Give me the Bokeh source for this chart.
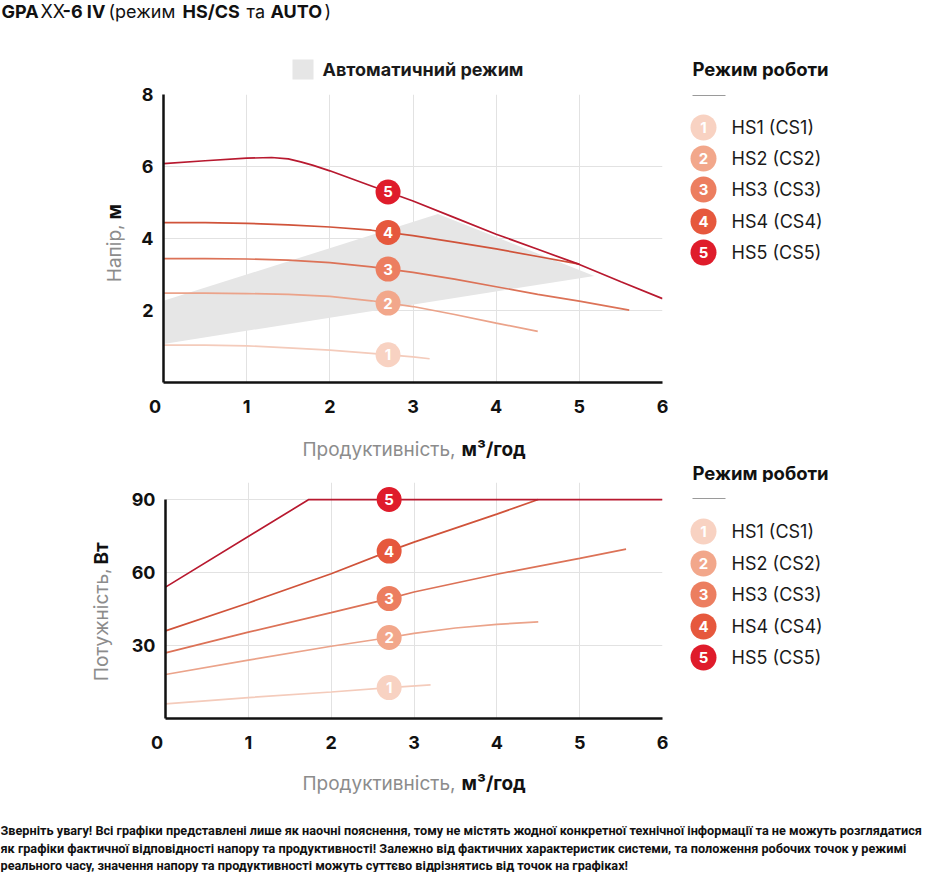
import numpy as np
from bokeh.plotting import figure
from bokeh.models import Range1d, FixedTicker
from bokeh.layouts import column, row
from bokeh.embed import file_html
from bokeh.resources import INLINE
from bokeh.core.properties import value

FONT = "Inter"

# ---------------- data ----------------
mode_labels = ["HS1 (CS1)", "HS2 (CS2)", "HS3 (CS3)", "HS4 (CS4)", "HS5 (CS5)"]
mode_nums = ["1", "2", "3", "4", "5"]
circle_colors = ["#f8d2c2", "#f2a78b", "#ec7e60", "#e6583d", "#df1c2b"]
line_colors = ["#f4cbbb", "#eba38a", "#dc7257", "#d0533a", "#b8192f"]

x_ticks = [0, 1, 2, 3, 4, 5, 6]
head_ticks = [2, 4, 6, 8]
power_ticks = [30, 60, 90]
marker_q = 2.7

# head curves (m) vs flow (m3/h)
head_q1 = [0, 0.5, 1, 1.5, 2, 2.5, 3, 3.2]
head_h1 = [1.04, 1.04, 1.02, 0.96, 0.90, 0.81, 0.71, 0.66]
head_q2 = [0, 0.5, 1, 1.5, 2, 2.5, 3, 3.5, 4, 4.5]
head_h2 = [2.48, 2.48, 2.47, 2.45, 2.39, 2.27, 2.11, 1.89, 1.65, 1.42]
head_q3 = [0, 0.5, 1, 1.5, 2, 2.5, 3, 3.5, 4, 4.5, 5, 5.6]
head_h3 = [3.44, 3.44, 3.43, 3.40, 3.33, 3.21, 3.06, 2.87, 2.66, 2.45, 2.26, 2.01]
head_q4 = [0, 0.5, 1, 1.5, 2, 2.5, 3, 3.5, 4, 4.5, 5]
head_h4 = [4.44, 4.44, 4.42, 4.38, 4.32, 4.23, 4.08, 3.90, 3.71, 3.50, 3.29]
head_q5 = [0, 0.5, 1, 1.3, 1.5, 1.65, 1.8, 2, 2.5, 3, 3.5, 4, 4.5, 5, 5.5, 6]
head_h5 = [6.08, 6.16, 6.23, 6.25, 6.21, 6.13, 6.03, 5.88, 5.46, 5.04, 4.58, 4.12, 3.70, 3.28, 2.80, 2.33]

# automatic mode area
auto_q = [0, 0, 3.3, 5.18]
auto_h = [1.07, 2.27, 4.68, 2.96]

# power curves (W) vs flow (m3/h)
pow_q1 = [0, 1, 2, 2.7, 3.2]
pow_p1 = [6.0, 8.6, 10.9, 12.7, 13.8]
pow_q2 = [0, 1, 2, 2.7, 3, 3.5, 4, 4.5]
pow_p2 = [18.1, 24.0, 29.7, 33.3, 35.0, 37.2, 38.7, 39.7]
pow_q3 = [0, 1, 2, 2.7, 3, 4, 5, 5.56]
pow_p3 = [27.0, 35.5, 43.5, 49.3, 52.0, 59.3, 65.8, 69.6]
pow_q4 = [0, 1, 2, 2.7, 3, 4, 4.5]
pow_p4 = [36.0, 47.5, 59.5, 68.8, 72.5, 84.0, 90.0]
pow_q5 = [0, 1.73, 6]
pow_p5 = [54.0, 90.0, 90.0]

head_q = [head_q1, head_q2, head_q3, head_q4, head_q5]
head_h = [head_h1, head_h2, head_h3, head_h4, head_h5]
pow_q = [pow_q1, pow_q2, pow_q3, pow_q4, pow_q5]
pow_p = [pow_p1, pow_p2, pow_p3, pow_p4, pow_p5]

title_parts = ["GPA", "XX", "-6 IV", "(режим", "HS/CS", "та", "AUTO", ")"]
title_styles = ["bold", "normal", "bold", "normal", "bold", "normal", "bold", "normal"]
title_x = [1, 40, 62, 108, 182, 246, 270, 324]

auto_label = "Автоматичний режим"
legend_title = "Режим роботи"
x_title_light = "Продуктивність,"
x_title_bold = "м³/год"

footer_lines = [
    "Зверніть увагу! Всі графіки представлені лише як наочні пояснення, тому не містять жодної конкретної технічної інформації та не можуть розглядатися",
    "як графіки фактичної відповідності напору та продуктивності! Залежно від фактичних характеристик системи, та положення робочих точок у режимі",
    "реального часу, значення напору та продуктивності можуть суттєво відрізнятись від точок на графіках!",
]

W = 936
YT_W = 128
CHART_W = 549
LEG_W = W - YT_W - CHART_W


def canvas(x0, y0, w, h, bt=0, bb=0):
    """A blank figure whose coordinates are page pixels (y measured downwards as negative).
    bt/bb: top/bottom borders, so that its frame lines up with a chart in the same row."""
    f = figure(width=w, height=h, x_range=Range1d(x0, x0 + w),
               y_range=Range1d(-(y0 + h - bb), -(y0 + bt)),
               output_backend="svg", toolbar_location=None, min_border=0,
               min_border_top=bt, min_border_bottom=bb,
               x_axis_location=None, y_axis_location=None)
    f.grid.visible = False
    f.outline_line_color = None
    return f


def put(f, x, y, txt, size, style="normal", color="#111111", align="left", angle=0.0, font=FONT):
    f.text([x], [-y], text=[txt], text_align=align, text_baseline="middle", angle=angle,
           text_font=value(font), text_font_style=style, text_font_size=size, text_color=color)


def style_chart(p, yticks):
    p.outline_line_color = None
    p.xaxis.ticker = FixedTicker(ticks=x_ticks)
    p.yaxis.ticker = FixedTicker(ticks=yticks)
    p.xgrid.ticker = FixedTicker(ticks=x_ticks[1:])
    p.ygrid.ticker = FixedTicker(ticks=yticks)
    p.grid.grid_line_color = "#e2e2e2"
    p.grid.grid_line_width = 1
    p.yaxis.bounds = (0, yticks[-1])
    for ax in (p.xaxis[0], p.yaxis[0]):
        ax.axis_line_width = 2.5
        ax.axis_line_color = "#111111"
        ax.major_tick_in = 0
        ax.major_tick_out = 0
        ax.minor_tick_line_color = None
        ax.major_tick_line_color = None
        ax.major_label_text_font = FONT
        ax.major_label_text_font_style = "bold"
        ax.major_label_text_font_size = "18px"
        ax.major_label_text_color = "#111111"
    p.xaxis.major_label_overrides = {0: "0\u00a0\u00a0\u00a0\u00a0"}
    p.xaxis.major_label_standoff = 13
    p.yaxis.major_label_standoff = 10


def add_curves(p, qs, vs):
    for q, v, lc in zip(qs, vs, line_colors):
        p.line(q, v, line_color=lc, line_width=1.7)
    for q, v, cc, n in zip(qs, vs, circle_colors, mode_nums):
        my = float(np.interp(marker_q, q, v))
        p.scatter([marker_q], [my], marker="circle", size=25, fill_color=cc, line_color=None)
        p.text([marker_q], [my], text=[n], text_align="center", text_baseline="middle",
               text_color="white", text_font=value(FONT), text_font_style="bold",
               text_font_size="15px")


def side_legend(x0, y0, h, bt, bb, line_y, item_y):
    f = canvas(x0, y0, LEG_W, h, bt, bb)
    f.line([692, 725], [-line_y, -line_y], line_color="#9a9a9a", line_width=1)
    f.scatter([703] * 5, [-y for y in item_y], marker="circle", size=26,
              fill_color=circle_colors, line_color=None)
    f.text([703] * 5, [-y for y in item_y], text=mode_nums, text_align="center",
           text_baseline="middle", text_color="white", text_font=value(FONT),
           text_font_style="bold", text_font_size="15px")
    f.text([731] * 5, [-y for y in item_y], text=mode_labels, text_align="left",
           text_baseline="middle", text_color="#1a1a1a", text_font=value(FONT),
           text_font_size="18px")
    return f


# ---------------- row A: title, auto legend, legend title ----------------
ra = canvas(0, 0, W, 80)
for txt, st, tx in zip(title_parts, title_styles, title_x):
    put(ra, tx, 11, txt, "18px", style=st)
ra.rect([302.5], [-69], width=21, height=20, fill_color="#e6e6e6", line_color=None)
put(ra, 322, 69, auto_label, "18px", style="bold", color="#1a1a1a")
put(ra, 692, 68, legend_title, "18.5px", style="bold")

# ---------------- row B: head chart (frame at page y 94..382) ----------------
yt1 = canvas(0, 80, YT_W, 340, 14, 38)
put(yt1, 114, 224, "Напір,", "19px", color="#8c8c8c", align="right", angle=np.pi / 2)
put(yt1, 114, 219, "м", "19px", style="bold", align="left", angle=np.pi / 2)

p1 = figure(width=CHART_W, height=340, x_range=Range1d(0, 6), y_range=Range1d(0, 8),
            output_backend="svg", toolbar_location=None,
            min_border_left=35, min_border_right=15, min_border_top=14, min_border_bottom=38)
style_chart(p1, head_ticks)
p1.patch(auto_q, auto_h, fill_color="#e6e6e6", line_color=None)
add_curves(p1, head_q, head_h)

l1 = side_legend(YT_W + CHART_W, 80, 340, 14, 38, 95, [127, 158, 189, 221, 252])

# ---------------- row C: x title 1 + legend 2 title ----------------
rc = canvas(0, 420, W, 62)
put(rc, 455, 449, x_title_light, "19px", color="#8c8c8c", align="right")
put(rc, 461, 449, x_title_bold, "19px", style="bold", align="left")
put(rc, 692, 472, legend_title, "18.5px", style="bold")

# ---------------- row E: power chart (frame at page y 482..718) ----------------
yt2 = canvas(0, 482, YT_W, 275, 0, 39)
put(yt2, 101, 568, "Потужність,", "19px", color="#8c8c8c", align="right", angle=np.pi / 2)
put(yt2, 101, 564, "Вт", "19px", style="bold", align="left", angle=np.pi / 2)

p2 = figure(width=CHART_W, height=275, x_range=Range1d(0, 6), y_range=Range1d(0, 97),
            output_backend="svg", toolbar_location=None,
            min_border_left=35, min_border_right=15, min_border_top=0, min_border_bottom=39)
style_chart(p2, power_ticks)
add_curves(p2, pow_q, pow_p)

l2 = side_legend(YT_W + CHART_W, 482, 275, 0, 39, 498, [531, 563, 594, 626, 657])

# ---------------- row F: x title 2 ----------------
rf = canvas(0, 757, W, 49)
put(rf, 455, 783, x_title_light, "19px", color="#8c8c8c", align="right")
put(rf, 461, 783, x_title_bold, "19px", style="bold", align="left")

# ---------------- row G: footer ----------------
rg = canvas(0, 806, W, 66)
for ln, fy in zip(footer_lines, [830, 848, 865]):
    put(rg, 0, fy, ln, "12.7px", style="bold", font="Roboto")

layout = column(ra, row(yt1, p1, l1), rc, row(yt2, p2, l2), rf, rg, spacing=0)
open("out.html", "w").write(file_html(layout, INLINE))
